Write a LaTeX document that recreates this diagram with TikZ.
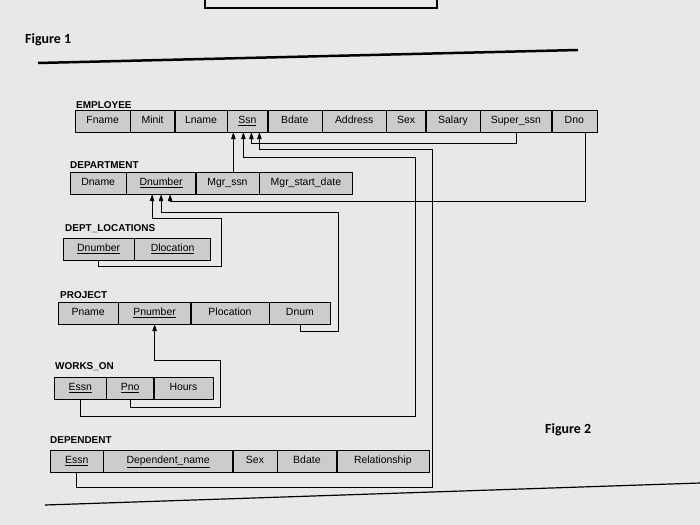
\documentclass[tikz,border=0pt]{standalone}
\usepackage{fontspec}
\setmainfont{Liberation Sans}
\newfontfamily\figfont{Carlito}
\usetikzlibrary{arrows.meta}
\begin{document}
\begin{tikzpicture}[x=1bp,y=-1bp,
  cell/.style={draw,fill=gray!40,minimum height=22bp,inner sep=0pt,text height=7.5bp,text depth=2bp,anchor=west,font=\fontsize{10.5}{12}\selectfont},
  tlabel/.style={anchor=west,inner sep=0pt,font=\bfseries\fontsize{10}{12}\selectfont},
  fk/.style={-{Triangle[length=7bp,width=4.5bp]},line width=0.7pt},
  figlabel/.style={anchor=west,inner sep=0pt,font=\figfont\bfseries\fontsize{14}{16}\selectfont}]
\useasboundingbox[fill=gray!18] (0,0) rectangle (700,525);
\draw[line width=1.2pt] (205,-5) rectangle (437,8);
\node[figlabel] (f1) at (25,40) {Figure 1};
\draw[line width=2.5pt] (38,63) -- (578,50);
\node[figlabel] (f2) at (545,430) {Figure 2};
\draw[line width=1.2pt] (45,505) -- (700,483);
% EMPLOYEE
\node[tlabel] (lemp) at (76,105) {EMPLOYEE};
\node[cell,minimum width=55bp] (e1) at (75,121) {Fname};
\node[cell,minimum width=44bp] (e2) at (e1.east) {Minit};
\node[cell,minimum width=52bp] (e3) at (e2.east) {Lname};
\node[cell,minimum width=40bp] (e4) at (e3.east) {\underline{Ssn}};
\node[cell,minimum width=54bp] (e5) at (e4.east) {Bdate};
\node[cell,minimum width=64bp] (e6) at (e5.east) {Address};
\node[cell,minimum width=39bp] (e7) at (e6.east) {Sex};
\node[cell,minimum width=54bp] (e8) at (e7.east) {Salary};
\node[cell,minimum width=71bp] (e9) at (e8.east) {Super\_ssn};
\node[cell,minimum width=45bp] (e10) at (e9.east) {Dno};
% DEPARTMENT
\node[tlabel] (ldep) at (70,165) {DEPARTMENT};
\node[cell,minimum width=56bp] (d1) at (70,183) {Dname};
\node[cell,minimum width=69bp] (d2) at (d1.east) {\underline{Dnumber}};
\node[cell,minimum width=63bp] (d3) at (d2.east) {Mgr\_ssn};
\node[cell,minimum width=93bp] (d4) at (d3.east) {Mgr\_start\_date};
% DEPT_LOCATIONS
\node[tlabel] (lloc) at (65,229) {DEPT\_LOCATIONS};
\node[cell,minimum width=71bp] (l1) at (63,249) {\underline{Dnumber}};
\node[cell,minimum width=76bp] (l2) at (l1.east) {\underline{Dlocation}};
% PROJECT
\node[tlabel] (lpro) at (60,295) {PROJECT};
\node[cell,minimum width=60bp] (p1) at (58,313) {Pname};
\node[cell,minimum width=72bp] (p2) at (p1.east) {\underline{Pnumber}};
\node[cell,minimum width=78bp] (p3) at (p2.east) {Plocation};
\node[cell,minimum width=61bp] (p4) at (p3.east) {Dnum};
% WORKS_ON
\node[tlabel] (lwo) at (55,367) {WORKS\_ON};
\node[cell,minimum width=52bp] (w1) at (54,388) {\underline{Essn}};
\node[cell,minimum width=47bp] (w2) at (w1.east) {\underline{Pno}};
\node[cell,minimum width=59bp] (w3) at (w2.east) {Hours};
% DEPENDENT
\node[tlabel] (ldpn) at (50,440) {DEPENDENT};
\node[cell,minimum width=53bp] (n1) at (50,461) {\underline{Essn}};
\node[cell,minimum width=129bp] (n2) at (n1.east) {\underline{Dependent\_name}};
\node[cell,minimum width=44bp] (n3) at (n2.east) {Sex};
\node[cell,minimum width=59bp] (n4) at (n3.east) {Bdate};
\node[cell,minimum width=92bp] (n5) at (n4.east) {Relationship};
% connectors
\coordinate (s1) at ([xshift=-14bp]e4.south);
\coordinate (s2) at ([xshift=-4bp]e4.south);
\coordinate (s3) at ([xshift=4bp]e4.south);
\coordinate (s4) at ([xshift=12bp]e4.south);
\coordinate (k1) at ([xshift=-9bp]d2.south);
\coordinate (k2) at (d2.south);
\coordinate (k3) at ([xshift=9bp]d2.south);
\coordinate (dn) at ([xshift=11bp]e10.south);
\draw[fk] (e9.south) -- (e9.south |- 0,143) -| (s3);
\draw[fk] (n1.south) -- (n1.south |- 0,487) -| (432,149) -| (s4);
\draw[fk] (w1.south) -- (w1.south |- 0,416) -| (415,157) -| (s2);
\draw[fk] (s1 |- d3.north) -- (s1);
\draw[fk] (dn) -- (dn |- 0,201) -| (k3);
\draw[fk] (p4.south) -- (p4.south |- 0,331) -| (338,212) -| (k2);
\draw[fk] (l1.south) -- (l1.south |- 0,266) -| (221,218) -| (k1);
\draw[fk] (w2.south) -- (w2.south |- 0,407) -| (220,360) -| (p2.south);
\end{tikzpicture}
\end{document}
